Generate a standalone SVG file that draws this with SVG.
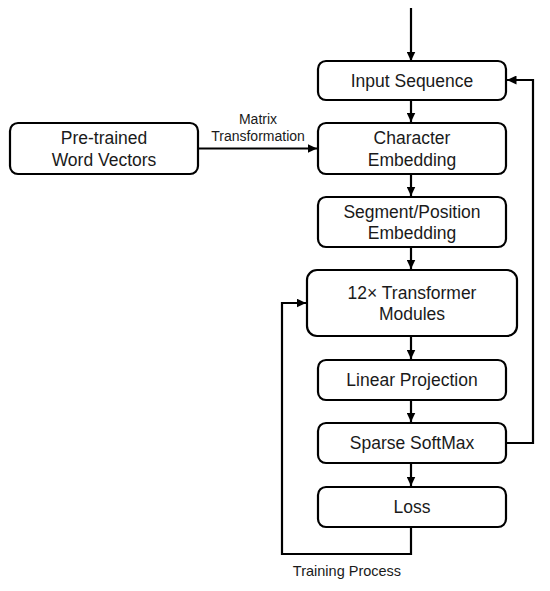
<svg xmlns="http://www.w3.org/2000/svg" width="550" height="591" viewBox="0 0 550 591">
<defs>
<marker id="arr" markerUnits="userSpaceOnUse" markerWidth="10" markerHeight="9" refX="9.5" refY="4.5" orient="auto">
<path d="M0,0 L9.5,4.5 L0,9 Z" fill="#000"/>
</marker>
<style>
.box{fill:#fff;stroke:#000;stroke-width:2.2}
.t{font-family:"Liberation Sans",Arial,sans-serif;font-size:17.5px;fill:#1a1a1a;text-anchor:middle}
.s{font-family:"Liberation Sans",Arial,sans-serif;font-size:14px;fill:#1a1a1a;text-anchor:middle}
.c{fill:none;stroke:#000;stroke-width:2.2}
</style>
</defs>
<rect width="550" height="591" fill="#fff"/>
<g id="connectors">
<line class="c" x1="411" y1="8" x2="411" y2="61" marker-end="url(#arr)"/>
<line class="c" x1="411" y1="100" x2="411" y2="122" marker-end="url(#arr)"/>
<line class="c" x1="198" y1="148.5" x2="317" y2="148.5" marker-end="url(#arr)"/>
<line class="c" x1="411" y1="174" x2="411" y2="196" marker-end="url(#arr)"/>
<line class="c" x1="411" y1="247" x2="411" y2="269" marker-end="url(#arr)"/>
<line class="c" x1="411" y1="336" x2="411" y2="359" marker-end="url(#arr)"/>
<line class="c" x1="411" y1="400" x2="411" y2="422" marker-end="url(#arr)"/>
<line class="c" x1="411" y1="463" x2="411" y2="486" marker-end="url(#arr)"/>
<polyline class="c" points="506,443 533,443 533,80 507,80" marker-end="url(#arr)"/>
<polyline class="c" points="411,527 411,554 282,554 282,303 306,303" marker-end="url(#arr)"/>
<text class="s" x="258" y="124">Matrix</text>
<text class="s" x="258" y="141">Transformation</text>
<text class="s" x="347" y="576" style="font-size:14.5px">Training Process</text>
</g>
<g id="input-sequence">
<rect class="box" x="318" y="61" width="188" height="39" rx="8"/>
<text class="t" x="412" y="87">Input Sequence</text>
</g>
<g id="pretrained-word-vectors">
<rect class="box" x="10" y="123" width="188" height="51" rx="8"/>
<text class="t" x="104" y="144">Pre-trained</text>
<text class="t" x="104" y="166">Word Vectors</text>
</g>
<g id="character-embedding">
<rect class="box" x="318" y="123" width="188" height="51" rx="8"/>
<text class="t" x="412" y="144">Character</text>
<text class="t" x="412" y="166">Embedding</text>
</g>
<g id="segment-position-embedding">
<rect class="box" x="318" y="197" width="188" height="50" rx="8"/>
<text class="t" x="412" y="218">Segment/Position</text>
<text class="t" x="412" y="239">Embedding</text>
</g>
<g id="transformer-modules">
<rect class="box" x="307" y="270" width="210" height="66" rx="10"/>
<text class="t" x="412" y="299">12× Transformer</text>
<text class="t" x="412" y="320">Modules</text>
</g>
<g id="linear-projection">
<rect class="box" x="318" y="360" width="188" height="40" rx="8"/>
<text class="t" x="412" y="386">Linear Projection</text>
</g>
<g id="sparse-softmax">
<rect class="box" x="318" y="423" width="188" height="40" rx="8"/>
<text class="t" x="412" y="449">Sparse SoftMax</text>
</g>
<g id="loss">
<rect class="box" x="318" y="487" width="188" height="40" rx="8"/>
<text class="t" x="412" y="513">Loss</text>
</g>
</svg>
